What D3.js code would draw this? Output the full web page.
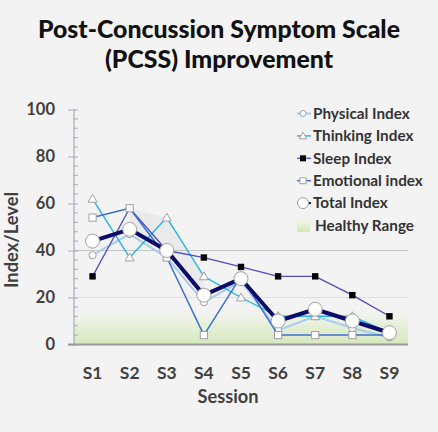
<!DOCTYPE html>
<html><head><meta charset="utf-8">
<script src="https://cdn.jsdelivr.net/npm/d3@7"></script>
<style>
html,body{margin:0;padding:0;background:#f3f3f3;}
svg{display:block;font-family:Lato,"Open Sans",sans-serif;}
</style></head>
<body>
<svg id="c" width="438" height="432"></svg>
<script>
const sessions = ["S1","S2","S3","S4","S5","S6","S7","S8","S9"];
const physical  = [38, 47, 37, 18, 27, 6, 12, 7, 3];
const thinking  = [62, 37, 54, 29, 20, 12, 12, 12, 5];
const sleep     = [29, 58, 40, 37, 33, 29, 29, 21, 12];
const emotional = [54, 58, 37, 4, 29, 4, 4, 4, 4];
const total     = [44, 49, 40, 21, 28, 10, 15, 10, 5];
const healthyRange = [0, 16];
const yTicks = [0, 20, 40, 60, 80, 100];
const gridValues = [20, 40];
const titleLines = ["Post-Concussion Symptom Scale", "(PCSS) Improvement"];
const seriesNames = ["Physical Index","Thinking Index","Sleep Index","Emotional index","Total Index"];
const healthyLabel = "Healthy Range";

const svg = d3.select("#c");
const L = 74, R = 408, T = 109.5, B = 344.5;
const x = d3.scaleBand().domain(sessions).range([L, R]);
const xc = s => x(s) + x.bandwidth()/2;
const y = d3.scaleLinear().domain([0,100]).range([B, T]);

function fit(sel, base, target){
  const w = sel.node().getComputedTextLength();
  sel.attr("font-size", base*target/w);
  return base*target/w;
}

const defs = svg.append("defs");
const g1 = defs.append("linearGradient").attr("id","hg").attr("x1",0).attr("y1",1).attr("x2",0).attr("y2",0);
g1.append("stop").attr("offset","0%").attr("stop-color","#d6e8bd").attr("stop-opacity",1);
g1.append("stop").attr("offset","50%").attr("stop-color","#e2eed0").attr("stop-opacity",0.8);
g1.append("stop").attr("offset","100%").attr("stop-color","#f0f4ea").attr("stop-opacity",0);
const g2 = defs.append("linearGradient").attr("id","sg").attr("x1",0).attr("y1",1).attr("x2",0).attr("y2",0);
g2.append("stop").attr("offset","0%").attr("stop-color","#d3e6b8");
g2.append("stop").attr("offset","100%").attr("stop-color","#f4f8ee");

// title
const title = svg.append("g");
titleLines.forEach((t,i)=>{
  title.append("text").attr("x",219).attr("y",i===0?38:68)
    .attr("text-anchor","middle").attr("font-weight",900).attr("font-size",22)
    .attr("fill","#111").text(t);
});
const tfs = fit(title.select("text"), 22, 362);
title.selectAll("text").attr("font-size",tfs);

// healthy range band
svg.append("rect").attr("x",L).attr("y",y(healthyRange[1])).attr("width",R-L)
  .attr("height",y(healthyRange[0])-y(healthyRange[1])).attr("fill","url(#hg)");

// gridlines
svg.append("g").selectAll("line").data(gridValues).join("line")
  .attr("x1",L).attr("x2",R).attr("y1",d=>y(d)).attr("y2",d=>y(d))
  .attr("stroke",d=>d===40?"#c4c4c4":"#dedede").attr("stroke-width",1);

// subtle shaded region between upper envelope and total (S2..S4)
const idx = [1,2,3];
const area = d3.area()
  .x(i=>xc(sessions[i]))
  .y0(i=>y(total[i]))
  .y1(i=>y(Math.max(thinking[i], emotional[i])));
svg.append("path").datum(idx).attr("d",area).attr("fill","#808080").attr("fill-opacity",0.07);

// y axis
const yAxis = d3.axisLeft(y).tickValues(yTicks).tickSize(6).tickPadding(13);
const ya = svg.append("g").attr("transform",`translate(${L},0)`).call(yAxis);
ya.select(".domain").attr("stroke","#a8a8bc").attr("stroke-width",1.2).attr("d",`M0,${T}V${B}`);
ya.selectAll(".tick line").attr("stroke","#a8a8bc").attr("x1",-6).attr("x2",4);
ya.selectAll(".tick text").attr("font-size",16.5).attr("font-weight","bold").attr("fill","#404040")
  .attr("font-family","Lato,sans-serif");
const minor = d3.range(0,101,4).filter(v=>v%20!==0);
svg.append("g").selectAll("line").data(minor).join("line")
  .attr("x1",L).attr("x2",L+4).attr("y1",d=>y(d)).attr("y2",d=>y(d))
  .attr("stroke","#a8a8bc").attr("stroke-width",1);

// x axis
const xAxis = d3.axisBottom(x).tickSize(0).tickPadding(22);
const xa = svg.append("g").attr("transform",`translate(0,${B})`).call(xAxis);
xa.select(".domain").attr("stroke","#9a9a9a").attr("stroke-width",2).attr("d",`M${L-6},0H${R}`);
xa.selectAll(".tick text").attr("font-size",17.5).attr("font-weight","bold").attr("fill","#404040")
  .attr("font-family","Lato,sans-serif");

// axis titles
const xt = svg.append("text").attr("x",228).attr("y",403).attr("text-anchor","middle")
  .attr("font-size",17).attr("font-weight","bold").attr("fill","#404040").text("Session");
fit(xt, 17, 61);
const yt = svg.append("text").attr("transform","translate(18,240) rotate(-90)").attr("text-anchor","middle")
  .attr("font-size",17).attr("font-weight","bold").attr("fill","#404040").text("Index/Level");
fit(yt, 17, 96);

// series
const series = [
  {name:seriesNames[0], data:physical,  color:"#a9cbed", w:2,   marker:"circle",  r:3.6},
  {name:seriesNames[1], data:thinking,  color:"#25b4e4", w:1.4, marker:"triangle",r:4.5},
  {name:seriesNames[2], data:sleep,     color:"#4d4dc4", w:1.3, marker:"sleep",   r:3.2},
  {name:seriesNames[3], data:emotional, color:"#3d6fd4", w:1.5, marker:"square",  r:3.6},
  {name:seriesNames[4], data:total,     color:"#0b0b6c", w:4,   marker:"bigcircle",r:7}
];
const line = d3.line().x((d,i)=>xc(sessions[i])).y(d=>y(d));

function drawMarker(g, s, cx, cy){
  if(s.marker==="circle"||s.marker==="bigcircle"){
    g.append("circle").attr("cx",cx).attr("cy",cy).attr("r",s.r)
      .attr("fill","#fff").attr("stroke","#a0a0a8").attr("stroke-width",1);
  } else if(s.marker==="triangle"){
    const r=s.r;
    g.append("path").attr("d",`M${cx},${cy-r}L${cx+r},${cy+r*0.75}L${cx-r},${cy+r*0.75}Z`)
      .attr("fill","#fff").attr("stroke","#a0a0a8").attr("stroke-width",1);
  } else if(s.marker==="sleep"){
    g.append("rect").attr("x",cx-s.r).attr("y",cy-s.r).attr("width",2*s.r).attr("height",2*s.r)
      .attr("fill","#000");
  } else {
    g.append("rect").attr("x",cx-s.r).attr("y",cy-s.r).attr("width",2*s.r).attr("height",2*s.r)
      .attr("fill","#fff").attr("stroke","#a0a0a8").attr("stroke-width",1);
  }
}

series.forEach(s=>{
  const g = svg.append("g");
  g.append("path").datum(s.data).attr("d",line).attr("fill","none")
    .attr("stroke",s.color).attr("stroke-width",s.w).attr("stroke-linejoin","round");
  s.data.forEach((v,i)=>drawMarker(g,s,xc(sessions[i]),y(v)));
});

// legend
const lg = svg.append("g");
const rowY = i => 113.5 + i*22.4;
const legTexts = [];
series.forEach((s,i)=>{
  const cy = rowY(i);
  lg.append("line").attr("x1",297).attr("x2",311).attr("y1",cy).attr("y2",cy)
    .attr("stroke",s.color).attr("stroke-width",Math.min(s.w,2));
  const m = Object.assign({}, s, {r: s.marker==="bigcircle"?5.5:(s.marker==="triangle"?3.8:3)});
  drawMarker(lg, m, 303, cy);
  legTexts.push(lg.append("text").attr("x",313).attr("y",cy).attr("dy","0.35em")
    .attr("font-size",14).attr("font-weight","bold").attr("fill","#333").text(s.name));
});
const hy = rowY(5);
lg.append("rect").attr("x",297).attr("y",hy-6.5).attr("width",13).attr("height",13)
  .attr("fill","url(#sg)").attr("stroke","#e8eee0").attr("stroke-width",0.5);
legTexts.push(lg.append("text").attr("x",315).attr("y",hy).attr("dy","0.35em")
  .attr("font-size",14).attr("font-weight","bold").attr("fill","#333").text(healthyLabel));
const lfs = fit(legTexts[3], 14, 110);
legTexts.forEach(t=>t.attr("font-size",lfs));
</script>
</body></html>
